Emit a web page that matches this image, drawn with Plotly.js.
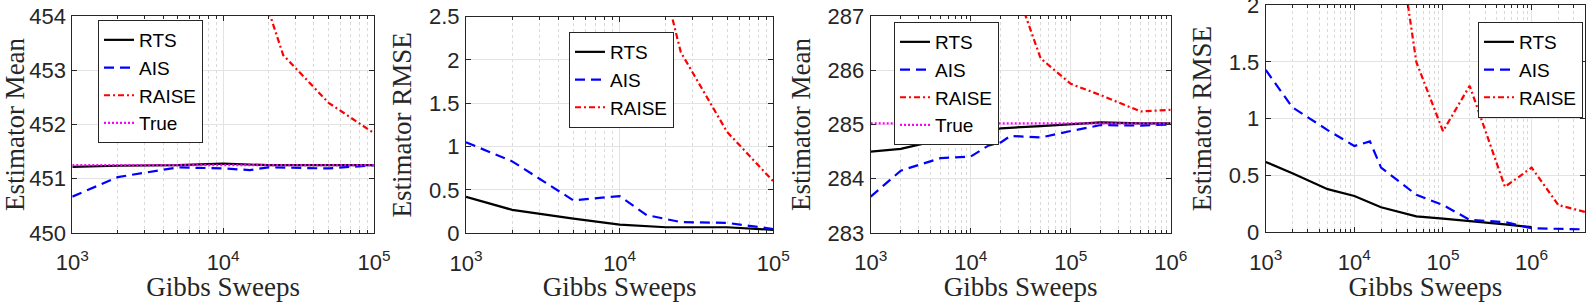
<!DOCTYPE html>
<html>
<head>
<meta charset="utf-8">
<script src="https://cdn.plot.ly/plotly-3.0.1.min.js"></script>
<style>html,body{margin:0;padding:0;background:#fff;}#chart{width:1588px;height:302px;}</style>
</head>
<body>
<div id="chart"></div>
<script>
// ---------- Data ----------
// Panel 1: Estimator Mean (x up to 1e5)
const p1_rts_x   = [1e3, 2e3, 5e3, 1e4, 2e4, 5e4, 1e5];
const p1_rts_y   = [451.22, 451.24, 451.25, 451.28, 451.25, 451.25, 451.25];
const p1_ais_x   = [1e3, 2e3, 5e3, 1e4, 1.5e4, 2e4, 5e4, 1e5];
const p1_ais_y   = [450.67, 451.03, 451.21, 451.19, 451.16, 451.21, 451.19, 451.25];
const p1_raise_x = [2e4, 2.5e4, 5e4, 1e5];
const p1_raise_y = [454.1, 453.28, 452.4, 451.84];
const p1_true_x  = [1e3, 1e5];
const p1_true_y  = [451.25, 451.25];

// Panel 2: Estimator RMSE (x up to 1e5)
const p2_rts_x   = [1e3, 2e3, 5e3, 1e4, 2e4, 5e4, 1e5];
const p2_rts_y   = [0.42, 0.27, 0.17, 0.10, 0.07, 0.07, 0.04];
const p2_ais_x   = [1e3, 2e3, 5e3, 1e4, 1.5e4, 2e4, 2.5e4, 5e4, 1e5];
const p2_ais_y   = [1.05, 0.83, 0.38, 0.43, 0.21, 0.16, 0.13, 0.12, 0.05];
const p2_raise_x = [2e4, 2.5e4, 5e4, 1e5];
const p2_raise_y = [2.78, 2.09, 1.17, 0.60];

// Panel 3: Estimator Mean (x up to 1e6)
const p3_rts_x   = [1e3, 2e3, 5e3, 1e4, 2e4, 5e4, 1e5, 2e5, 5e5, 1e6];
const p3_rts_y   = [284.50, 284.55, 284.72, 284.82, 284.93, 284.97, 285.00, 285.04, 285.02, 285.02];
const p3_ais_x   = [1e3, 2e3, 5e3, 1e4, 1.5e4, 2e4, 2.5e4, 5e4, 1e5, 2e5, 5e5, 1e6];
const p3_ais_y   = [283.67, 284.15, 284.38, 284.41, 284.61, 284.67, 284.79, 284.76, 284.88, 284.99, 284.98, 285.00];
const p3_raise_x = [2.5e4, 5e4, 1e5, 2e5, 5e5, 1e6];
const p3_raise_y = [287.79, 286.22, 285.75, 285.54, 285.24, 285.27];
const p3_true_x  = [1e3, 1e6];
const p3_true_y  = [285.02, 285.02];

// Panel 4: Estimator RMSE (x up to 4e6)
const p4_rts_x   = [1e3, 2e3, 5e3, 1e4, 2e4, 5e4, 1e5, 2e5, 5e5, 1e6];
const p4_rts_y   = [0.62, 0.52, 0.38, 0.32, 0.22, 0.14, 0.12, 0.10, 0.07, 0.045];
const p4_ais_x   = [1e3, 2e3, 5e3, 1e4, 1.5e4, 2e4, 5e4, 1e5, 2e5, 5e5, 1e6, 2e6, 4e6];
const p4_ais_y   = [1.43, 1.10, 0.90, 0.76, 0.80, 0.57, 0.33, 0.24, 0.11, 0.09, 0.035, 0.03, 0.026];
const p4_raise_x = [2.5e4, 5e4, 1e5, 2e5, 5e5, 1e6, 2e6, 4e6];
const p4_raise_y = [3.1, 1.50, 0.89, 1.29, 0.40, 0.57, 0.24, 0.18];

// Tick labels
const xMajorVals = [1e3, 1e4, 1e5, 1e6];
const xMajorText = ["10<sup>3</sup>", "10<sup>4</sup>", "10<sup>5</sup>", "10<sup>6</sup>"];
const yTitleMean = "Estimator Mean";
const yTitleRMSE = "Estimator RMSE";
const xTitle = "Gibbs Sweeps";

// ---------- Styling ----------
const W = 1588, H = 302;
const axisColor = "#262626";
const gridColor = "#e3e3e3";
const minorGridColor = "#d9d9d9";
const tickFont = {family: "Liberation Sans, Arial, sans-serif", size: 22, color: axisColor};
const titleFont = {family: "Liberation Serif, Times New Roman, serif", size: 27, color: axisColor};
const legendFont = {family: "Liberation Sans, Arial, sans-serif", size: 19, color: "#000"};

const styles = {
  RTS:   {color: "#000000", width: 2.2, dash: "solid"},
  AIS:   {color: "#0000ff", width: 2.2, dash: "10px,6px"},
  RAISE: {color: "#ff0000", width: 2.2, dash: "6px,3px,2px,3px"},
  True:  {color: "#ff00ff", width: 2.2, dash: "2px,2px"}
};

const minorVals = [];
for (let e = 3; e <= 6; e++) for (let m = 2; m <= 9; m++) minorVals.push(m * Math.pow(10, e));

// pixel boxes of the four plot areas [left, right, top, bottom]
const boxes = [
  [72.3, 374, 16, 233],
  [466, 773.3, 16.6, 233.3],
  [870.7, 1170.7, 16, 233],
  [1265.7, 1585, 5.1, 232.3]
];
const xRanges = [[3, 5], [3, 5], [3, 6], [3, 6.602]];
const yRanges = [[450, 454], [0, 2.5], [283, 287], [0, 2.0005]];
const yDticks = [1, 0.5, 1, 0.5];
const yTitles = [yTitleMean, yTitleRMSE, yTitleMean, yTitleRMSE];
const legendPos = [[98, 20], [569, 32], [894, 22], [1478, 22]];

const layout = {
  width: W, height: H,
  margin: {l: 0, r: 0, t: 0, b: 0},
  paper_bgcolor: "#fff", plot_bgcolor: "#fff",
  showlegend: true
};

boxes.forEach((b, i) => {
  const n = i + 1;
  const xa = "xaxis" + (n === 1 ? "" : n);
  const ya = "yaxis" + (n === 1 ? "" : n);
  layout[xa] = {
    type: "log",
    domain: [b[0] / W, b[1] / W],
    range: xRanges[i],
    anchor: "y" + (n === 1 ? "" : n),
    tickmode: "array",
    tickvals: xMajorVals,
    ticktext: xMajorText,
    tickfont: tickFont,
    ticks: "inside", ticklen: 5, tickcolor: axisColor, tickwidth: 1,
    showline: true, linecolor: axisColor, linewidth: 1, mirror: "ticks",
    showgrid: true, gridcolor: gridColor, gridwidth: 1,
    zeroline: false,
    ticklabelstandoff: 10,
    ticklabeloverflow: "allow",
    minor: {tickmode: "array", tickvals: minorVals, ticks: "inside", ticklen: 3, tickcolor: axisColor,
            showgrid: true, gridcolor: minorGridColor, griddash: "dot", gridwidth: 1},
    title: {text: xTitle, font: titleFont, standoff: 4}
  };
  layout[ya] = {
    domain: [1 - b[3] / H, 1 - b[2] / H],
    range: yRanges[i],
    tickmode: "linear", tick0: 0,
    dtick: yDticks[i],
    anchor: "x" + (n === 1 ? "" : n),
    tickfont: tickFont,
    ticks: "inside", ticklen: 5, tickcolor: axisColor, tickwidth: 1,
    showline: true, linecolor: axisColor, linewidth: 1, mirror: "ticks",
    showgrid: true, gridcolor: gridColor, gridwidth: 1,
    zeroline: false,
    ticklabelstandoff: 1,
    ticklabeloverflow: "allow",
    title: {text: yTitles[i], font: titleFont, standoff: 9}
  };
  const lg = "legend" + (n === 1 ? "" : n);
  layout[lg] = {
    x: legendPos[i][0] / W, y: 1 - legendPos[i][1] / H,
    xanchor: "left", yanchor: "top",
    xref: "paper", yref: "paper",
    bgcolor: "#ffffff", bordercolor: axisColor, borderwidth: 1,
    font: legendFont, itemwidth: 30, tracegroupgap: 0
  };
});

function tr(x, y, name, panel) {
  const s = styles[name];
  const sfx = panel === 1 ? "" : String(panel);
  return {
    x: x, y: y, name: name, type: "scatter", mode: "lines",
    line: {color: s.color, width: s.width, dash: s.dash},
    xaxis: "x" + sfx, yaxis: "y" + sfx, legend: "legend" + sfx,
    cliponaxis: true, hoverinfo: "skip"
  };
}

const data = [
  tr(p1_rts_x, p1_rts_y, "RTS", 1),
  tr(p1_ais_x, p1_ais_y, "AIS", 1),
  tr(p1_raise_x, p1_raise_y, "RAISE", 1),
  tr(p1_true_x, p1_true_y, "True", 1),
  tr(p2_rts_x, p2_rts_y, "RTS", 2),
  tr(p2_ais_x, p2_ais_y, "AIS", 2),
  tr(p2_raise_x, p2_raise_y, "RAISE", 2),
  tr(p3_rts_x, p3_rts_y, "RTS", 3),
  tr(p3_ais_x, p3_ais_y, "AIS", 3),
  tr(p3_raise_x, p3_raise_y, "RAISE", 3),
  tr(p3_true_x, p3_true_y, "True", 3),
  tr(p4_rts_x, p4_rts_y, "RTS", 4),
  tr(p4_ais_x, p4_ais_y, "AIS", 4),
  tr(p4_raise_x, p4_raise_y, "RAISE", 4)
];

Plotly.newPlot("chart", data, layout, {staticPlot: true, displayModeBar: false});
</script>
</body>
</html>
